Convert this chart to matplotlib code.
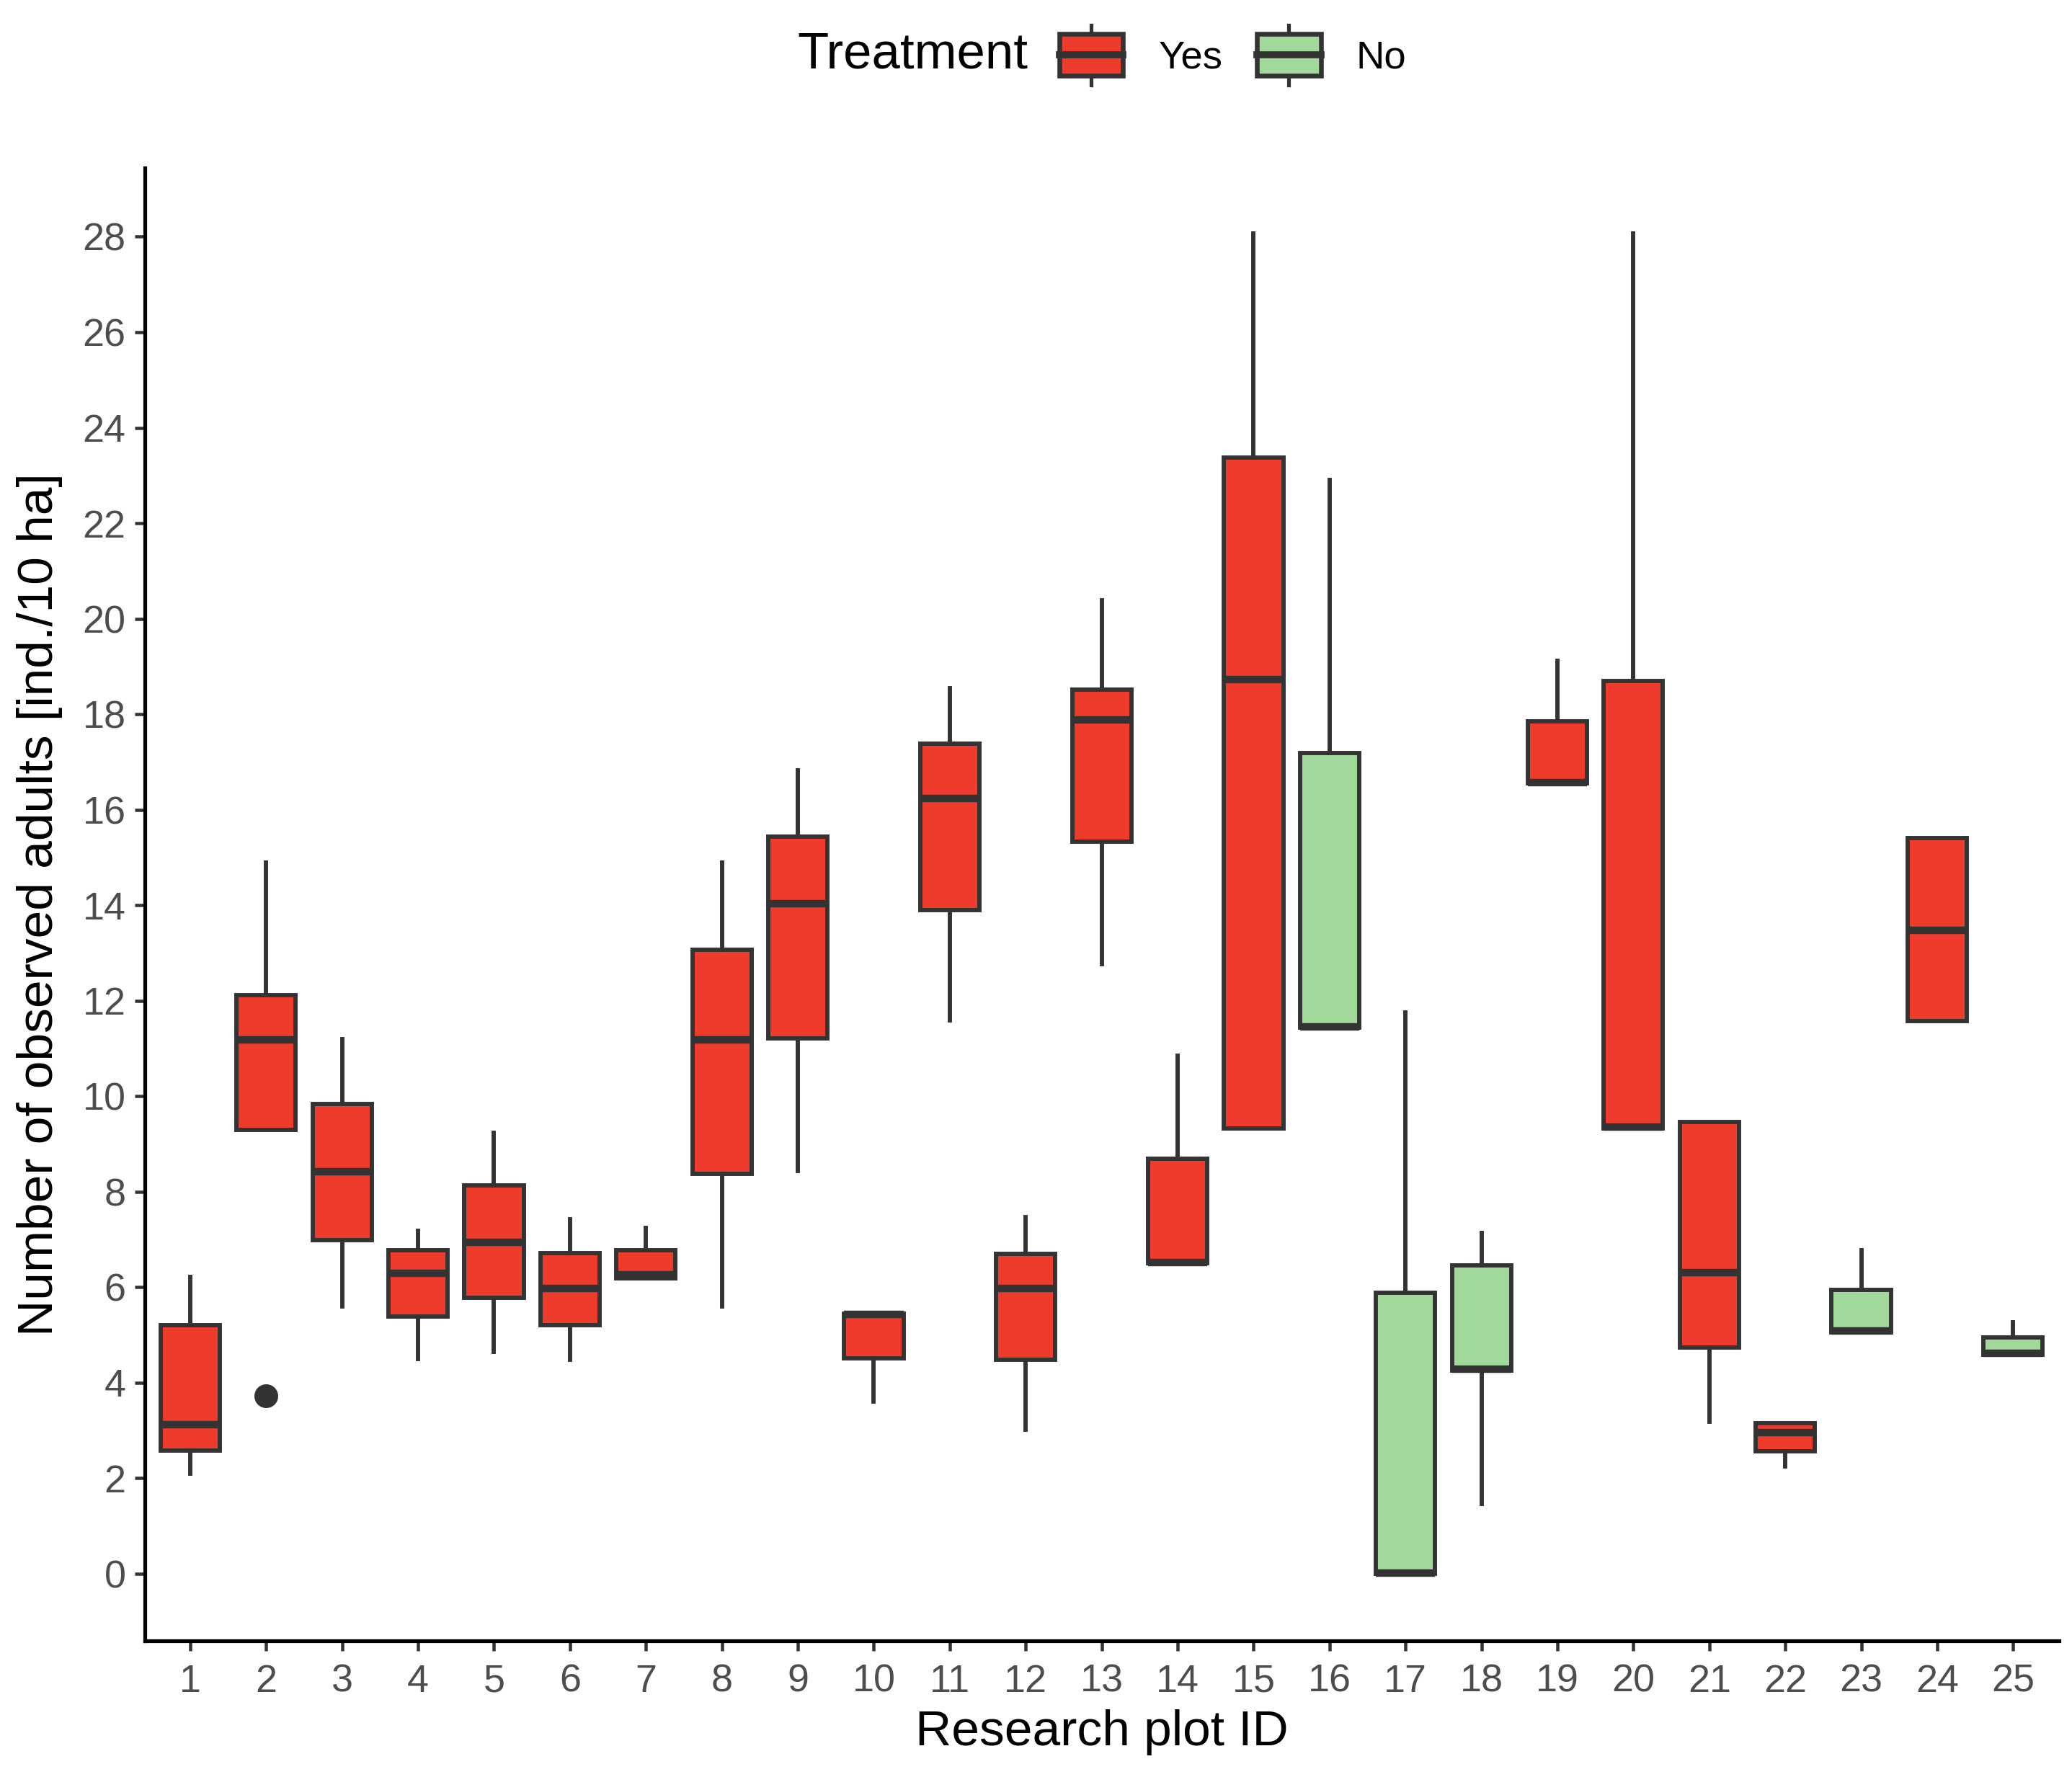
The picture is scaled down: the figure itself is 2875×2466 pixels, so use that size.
import matplotlib
matplotlib.use("Agg")
import matplotlib.pyplot as plt
from matplotlib.patches import Rectangle, Patch
from matplotlib.lines import Line2D
from matplotlib.legend_handler import HandlerBase

plt.rcParams['font.family'] = ['Liberation Sans', 'DejaVu Sans']

# box statistics per research plot
plots = list(range(1, 26))
treated = ['Yes'] * 15 + ['No', 'No', 'No', 'Yes', 'Yes', 'Yes', 'Yes', 'No', 'Yes', 'No']
whis_lo = [2.09, 9.29, 5.6, 4.5, 4.65, 4.48, 6.18, 5.59, 8.44, 3.6, 11.59, 3.02, 12.76,
           6.5, 9.33, 11.43, 0.0, 1.47, 16.55, 9.33, 3.18, 2.24, 5.06, 11.57, 4.59]
q1 = [2.58, 9.29, 6.98, 5.39, 5.78, 5.2, 6.18, 8.38, 11.21, 4.51, 13.89, 4.48, 15.33,
      6.5, 9.33, 11.43, 0.0, 4.26, 16.55, 9.33, 4.73, 2.57, 5.06, 11.57, 4.59]
median = [3.13, 11.18, 8.42, 6.29, 6.94, 5.97, 6.26, 11.18, 14.03, 5.43, 16.24, 5.98, 17.88,
          6.52, 18.73, 11.46, 0.02, 4.29, 16.57, 9.36, 6.31, 2.96, 5.09, 13.48, 4.62]
q3 = [5.21, 12.11, 9.84, 6.77, 8.13, 6.72, 6.77, 13.06, 15.44, 5.45, 17.38, 6.7, 18.51,
      8.69, 23.38, 17.18, 5.89, 6.45, 17.85, 18.7, 9.46, 3.15, 5.95, 15.41, 4.95]
whis_hi = [6.21, 14.9, 11.2, 7.18, 9.23, 7.43, 7.24, 14.89, 16.82, 5.45, 18.54, 7.47, 20.39,
           10.85, 28.06, 22.91, 11.76, 7.14, 19.12, 28.06, 9.46, 3.15, 6.78, 15.41, 5.26]
outliers = {2: [3.72]}

colors = {'Yes': '#EE3B2B', 'No': '#A1D99B'}
edge = '#333333'

fig = plt.figure(figsize=(11.5, 9.864), dpi=250)
ax = fig.add_axes([0.0698, 0.0765, 0.9238, 0.829])

stats = []
for i, p in enumerate(plots):
    stats.append({'whislo': whis_lo[i], 'q1': q1[i], 'med': median[i], 'q3': q3[i],
                  'whishi': whis_hi[i], 'fliers': outliers.get(p, [])})

bp = ax.bxp(stats, positions=plots, widths=0.78, patch_artist=True, showcaps=False,
            boxprops=dict(edgecolor=edge, linewidth=1.7),
            medianprops=dict(color=edge, linewidth=3.0, solid_capstyle='butt'),
            whiskerprops=dict(color=edge, linewidth=1.7),
            flierprops=dict(marker='o', markerfacecolor=edge, markeredgecolor=edge, markersize=8.5))
for patch, t in zip(bp['boxes'], treated):
    patch.set_facecolor(colors[t])

ax.set_xlim(0.4, 25.6)
ax.set_ylim(-1.41, 29.44)
ax.set_yticks(range(0, 29, 2))
ax.set_xticks(plots)
for s in ['top', 'right']:
    ax.spines[s].set_visible(False)
for s in ['left', 'bottom']:
    ax.spines[s].set_linewidth(1.5)
    ax.spines[s].set_color('black')
ax.tick_params(axis='both', length=4, width=1.3, color=edge, labelcolor='#4D4D4D', labelsize=15.5)
ax.tick_params(axis='x', pad=5)
ax.set_xlabel('Research plot ID', fontsize=20, labelpad=4)
ax.set_ylabel('Number of observed adults [ind./10 ha]', fontsize=20, labelpad=8)


class BoxKey(HandlerBase):
    def create_artists(self, legend, orig_handle, xdescent, ydescent, width, height, fontsize, trans):
        x0, y0 = -xdescent, -ydescent
        fc = orig_handle.get_facecolor()
        whisk = Line2D([x0 + width / 2, x0 + width / 2], [y0 - 0.22 * height, y0 + 1.22 * height],
                       color=edge, linewidth=1.5, transform=trans)
        box = Rectangle((x0, y0), width, height, facecolor=fc,
                        edgecolor=edge, linewidth=1.9, transform=trans)
        med = Line2D([x0, x0 + width], [y0 + 0.5 * height] * 2, color=edge,
                     linewidth=2.8, transform=trans)
        return [whisk, box, med]


handles = [Patch(facecolor=colors['Yes']), Patch(facecolor=colors['No'])]
fig.legend(handles, ['Yes', 'No'], handler_map={Patch: BoxKey()}, ncol=2, frameon=False,
           loc='center', bbox_to_anchor=(0.595, 0.969), fontsize=15.7,
           handlelength=1.62, handleheight=1.25, handletextpad=0.9, columnspacing=0.88)
fig.text(0.4405, 0.969, 'Treatment', fontsize=20.4, ha='center', va='center')

fig.savefig('out.png', dpi=250)
